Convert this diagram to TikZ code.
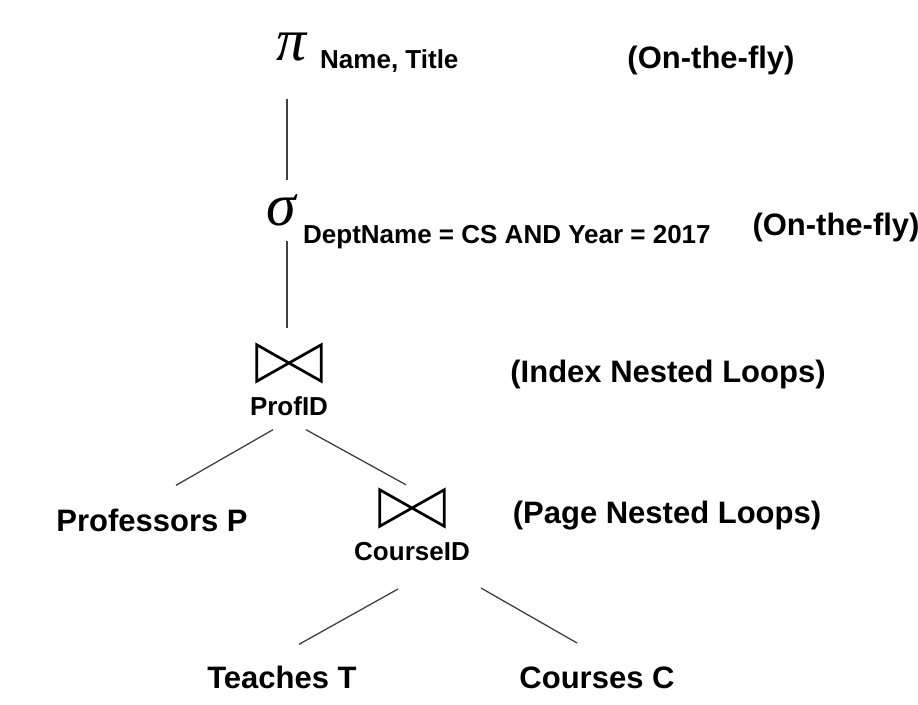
\documentclass[tikz,border=0pt]{standalone}
\usepackage{fontspec}
\setmainfont{Liberation Sans}
\newfontfamily\greekfont{Liberation Serif}
\usetikzlibrary{positioning, calc}
\tikzstyle{optext} =[font=\fontsize{31}{37}\selectfont\bfseries, inner sep=0pt, anchor=base]
\tikzstyle{subtext} =[font=\fontsize{26}{31}\selectfont\bfseries, inner sep=0pt, anchor=base]
\tikzstyle{greek} =[font=\fontsize{60}{66}\selectfont\greekfont\itshape, inner sep=0pt, anchor=base]
\tikzstyle{joinop} =[minimum width=64pt, minimum height=36pt, inner sep=0pt]
\tikzstyle{bowtie} =[line width=2.7pt, black]
\tikzstyle{treeline} =[line width=1.3pt, black!75]

\begin{document}
\begin{tikzpicture}[x=1pt, y=-1pt]
\useasboundingbox (0,0) rectangle (918,704);

\node (piOp) [greek] at (292,60) {π};
\node (piSub) [subtext, anchor=base west] at (320,68) {Name, Title};
\node (piNote) [optext] at (711,68) {(On-the-fly)};

\node (sigmaOp) [greek] at (281,225) {σ};
\node (sigmaSub) [subtext, anchor=base west] at (303,243) {DeptName = CS AND Year = 2017};
\node (sigmaNote) [optext] at (836,235) {(On-the-fly)};

\node (profJoin) [joinop] at (289,363) {};
\node (profID) [subtext, below=15pt of profJoin] {ProfID};
\node (profNote) [optext] at (668,382) {(Index Nested Loops)};

\node (professors) [optext] at (152,531) {Professors P};

\node (courseJoin) [joinop] at (412,508) {};
\node (courseID) [subtext, below=16pt of courseJoin] {CourseID};
\node (courseNote) [optext] at (667,523) {(Page Nested Loops)};

\node (teaches) [optext] at (282,688) {Teaches T};
\node (courses) [optext] at (597,688) {Courses C};

\foreach \j in {profJoin, courseJoin}
	\draw[bowtie] (\j.north west) -- (\j.south east) -- (\j.north east) -- (\j.south west) -- cycle;

\draw[treeline] ($(piOp.south)+(-5,38)$) -- ($(sigmaOp.north)+(6,-14)$);
\draw[treeline] ($(sigmaOp.south)+(6,15)$) -- ($(profJoin.north)+(-2,-17)$);

\draw[treeline] ($(profID.south)+(-16,14)$) -- ($(professors.north)+(24,-23)$);
\draw[treeline] ($(profID.south)+(17,14)$) -- ($(courseJoin.north)+(-6,-5)$);

\draw[treeline] ($(courseID.south)+(-14,28)$) -- ($(teaches.north)+(17,-21)$);
\draw[treeline] ($(courseID.south east)+(11,27)$) -- ($(courses.north west)+(58,-23)$);

\end{tikzpicture}
\end{document}
